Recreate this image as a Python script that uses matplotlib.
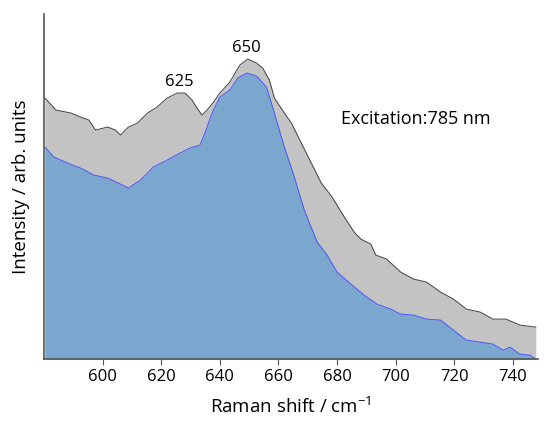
import matplotlib
matplotlib.use("Agg")
import matplotlib.pyplot as plt

plt.rcParams['font.family'] = ['Open Sans', 'DejaVu Sans']
plt.rcParams['mathtext.fontset'] = 'custom'
plt.rcParams['mathtext.rm'] = 'Open Sans'

# Gray (upper) spectrum
gray_x = [580.3, 584.1, 589.2, 592.5, 595.3, 597.6, 601.7, 604.4, 606.1, 608.8, 611.9, 615.3,
          618.6, 622.0, 625.4, 628.1, 630.5, 632.2, 633.9, 635.6, 637.6, 640.0, 643.4, 646.8,
          649.5, 652.5, 654.6, 656.9, 658.6, 662.0, 664.4, 667.8, 671.2, 674.6, 678.3, 681.4,
          685.8, 688.1, 691.5, 693.2, 696.9, 701.7, 706.1, 710.5, 715.3, 719.7, 724.1, 728.8,
          733.2, 737.6, 742.4, 747.8]
gray_y = [261, 249, 246, 242, 239, 229, 232, 229, 224, 232, 236, 246,
          252, 261, 266, 266, 259, 251, 244, 249, 256, 266, 277, 294,
          300, 296, 291, 279, 261, 246, 236, 216, 196, 176, 162, 147,
          127, 120, 115, 104, 100, 87, 80, 77, 67, 60, 50, 47,
          40, 40, 34, 32]

# Blue (lower) spectrum
blue_x = [580.3, 583.4, 588.1, 592.5, 597.0, 601.7, 605.4, 608.8, 612.9, 617.3, 622.0, 626.4,
          629.8, 633.2, 634.9, 637.3, 640.0, 643.4, 646.1, 649.2, 652.5, 655.9, 658.6, 662.0,
          665.4, 668.8, 673.2, 676.6, 680.0, 684.7, 689.2, 693.6, 698.3, 701.7, 706.1, 710.5,
          715.3, 719.7, 724.1, 728.8, 733.2, 736.6, 739.0, 742.4, 745.8, 747.8]
blue_y = [212, 202, 196, 191, 184, 181, 176, 171, 179, 192, 199, 206,
          211, 214, 226, 246, 262, 269, 281, 286, 283, 272, 246, 212,
          182, 149, 117, 104, 87, 75, 64, 55, 50, 45, 44, 40,
          39, 29, 19, 17, 15, 9, 12, 5, 4, 0]

xticks = [600, 620, 640, 660, 680, 700, 720, 740]

fig = plt.figure(figsize=(5.5, 4.25), dpi=100)
ax = fig.add_axes([0.08, 0.155, 0.898, 0.812])

ax.fill_between(gray_x, gray_y, 0, color='#c3c3c3', linewidth=0)
ax.plot(gray_x, gray_y, color='#404040', linewidth=0.7)
ax.fill_between(blue_x, blue_y, 0, color='#7ba7cf', linewidth=0)
ax.plot(blue_x, blue_y, color='#4a55ff', linewidth=0.7)

ax.set_xlim(580, 748.5)
ax.set_ylim(0, 345)
ax.set_xticks(xticks)
ax.set_yticks([])
ax.tick_params(axis='x', labelsize=12, length=4, color='#555555', pad=3)

for s in ['top', 'right']:
    ax.spines[s].set_visible(False)
for s in ['left', 'bottom']:
    ax.spines[s].set_color('#555555')
    ax.spines[s].set_linewidth(1.2)

ax.set_xlabel('Raman shift / cm$^{\\mathrm{-1}}$', fontsize=13.5, labelpad=8)
ax.set_ylabel('Intensity / arb. units', fontsize=13.5, labelpad=10)

ax.text(649.2, 311, '650', fontsize=12, ha='center', va='center')
ax.text(626.1, 277, '625', fontsize=12, ha='center', va='center')
ax.text(707, 240, 'Excitation:785 nm', fontsize=13, ha='center', va='center')

fig.savefig('out.png', dpi=100)
